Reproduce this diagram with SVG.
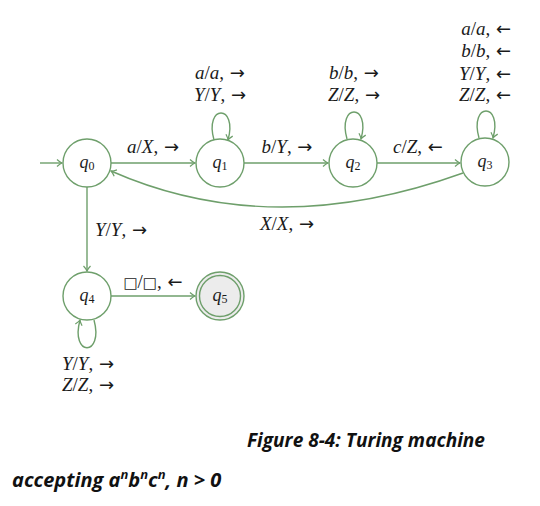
<svg xmlns="http://www.w3.org/2000/svg" width="540" height="506" viewBox="0 0 540 506">
<defs>
<style>
.st{fill:#fff;stroke:#6e9f6b;stroke-width:1.4}
.acc{fill:#ececec;stroke:#6e9f6b;stroke-width:1.4}
.e{fill:none;stroke:#6e9f6b;stroke-width:1.4}
.m{font-family:"Liberation Serif","DejaVu Serif",serif;font-size:19px;fill:#1a1a1a}
.m tspan.i{font-style:italic}
.m tspan.a{font-family:"DejaVu Sans",sans-serif;font-size:18px}
.m tspan.b{font-family:"DejaVu Sans",sans-serif;font-size:15px}
.q{font-family:"Liberation Serif","DejaVu Serif",serif;font-size:18px;fill:#1a1a1a;font-style:italic;text-anchor:middle}
.q tspan{font-style:normal;font-size:12px}
.cap{font-family:"Open Sans","Noto Sans",sans-serif;font-size:20px;font-weight:bold;font-style:italic;fill:#111}
</style>
<marker id="ar" markerWidth="10" markerHeight="10" refX="8" refY="5" orient="auto" markerUnits="userSpaceOnUse">
<path d="M3 1.5 Q6 4.3 8 5 Q6 5.7 3 8.5" fill="none" stroke="#6e9f6b" stroke-width="1.2"/>
</marker>
</defs>
<rect width="540" height="506" fill="#fff"/>
<g id="connectors">
<path class="e" d="M40 163 H62" marker-end="url(#ar)"/>
<path class="e" d="M111 163 H195" marker-end="url(#ar)"/>
<path class="e" d="M244 163 H328" marker-end="url(#ar)"/>
<path class="e" d="M377 163 H460" marker-end="url(#ar)"/>
<path class="e" d="M463 173 Q272 242 111 171" marker-end="url(#ar)"/>
<path class="e" d="M87 187 V271" marker-end="url(#ar)"/>
<path class="e" d="M111 296 H195" marker-end="url(#ar)"/>
<path class="e" d="M214 140 C204 104 238 104 228 140" marker-end="url(#ar)"/>
<path class="e" d="M347 139 C337 103 371 103 361 139" marker-end="url(#ar)"/>
<path class="e" d="M479 138 C469 102 503 102 493 138" marker-end="url(#ar)"/>
<path class="e" d="M94 320 C104 357 70 357 80 320" marker-end="url(#ar)"/>
<text class="m" x="153" y="153" text-anchor="middle"><tspan class="i">a</tspan>/<tspan class="i">X</tspan>,<tspan class="a"> →</tspan></text>
<text class="m" x="287" y="153" text-anchor="middle"><tspan class="i">b</tspan>/<tspan class="i">Y</tspan>,<tspan class="a"> →</tspan></text>
<text class="m" x="418" y="153" text-anchor="middle"><tspan class="i">c</tspan>/<tspan class="i">Z</tspan>,<tspan class="a"> ←</tspan></text>
<text class="m" x="287" y="230" text-anchor="middle"><tspan class="i">X</tspan>/<tspan class="i">X</tspan>,<tspan class="a"> →</tspan></text>
<text class="m" x="95" y="236"><tspan class="i">Y</tspan>/<tspan class="i">Y</tspan>,<tspan class="a"> →</tspan></text>
<text class="m" x="153" y="288" text-anchor="middle"><tspan class="b">□</tspan>/<tspan class="b">□</tspan>,<tspan class="a"> ←</tspan></text>
<text class="m" x="220" y="79" text-anchor="middle"><tspan class="i">a</tspan>/<tspan class="i">a</tspan>,<tspan class="a"> →</tspan></text>
<text class="m" x="220" y="101" text-anchor="middle"><tspan class="i">Y</tspan>/<tspan class="i">Y</tspan>,<tspan class="a"> →</tspan></text>
<text class="m" x="354" y="79" text-anchor="middle"><tspan class="i">b</tspan>/<tspan class="i">b</tspan>,<tspan class="a"> →</tspan></text>
<text class="m" x="354" y="101" text-anchor="middle"><tspan class="i">Z</tspan>/<tspan class="i">Z</tspan>,<tspan class="a"> →</tspan></text>
<text class="m" x="511" y="35" text-anchor="end"><tspan class="i">a</tspan>/<tspan class="i">a</tspan>,<tspan class="a"> ←</tspan></text>
<text class="m" x="511" y="57" text-anchor="end"><tspan class="i">b</tspan>/<tspan class="i">b</tspan>,<tspan class="a"> ←</tspan></text>
<text class="m" x="511" y="80" text-anchor="end"><tspan class="i">Y</tspan>/<tspan class="i">Y</tspan>,<tspan class="a"> ←</tspan></text>
<text class="m" x="511" y="101" text-anchor="end"><tspan class="i">Z</tspan>/<tspan class="i">Z</tspan>,<tspan class="a"> ←</tspan></text>
<text class="m" x="88" y="370" text-anchor="middle"><tspan class="i">Y</tspan>/<tspan class="i">Y</tspan>,<tspan class="a"> →</tspan></text>
<text class="m" x="88" y="391" text-anchor="middle"><tspan class="i">Z</tspan>/<tspan class="i">Z</tspan>,<tspan class="a"> →</tspan></text>
</g>
<g id="q0"><circle class="st" cx="87" cy="163" r="24"/><text class="q" x="87" y="168">q<tspan dy="2">0</tspan></text></g>
<g id="q1"><circle class="st" cx="220" cy="163" r="24"/><text class="q" x="220" y="168">q<tspan dy="2">1</tspan></text></g>
<g id="q2"><circle class="st" cx="353" cy="163" r="24"/><text class="q" x="353" y="168">q<tspan dy="2">2</tspan></text></g>
<g id="q3"><circle class="st" cx="485" cy="162" r="24"/><text class="q" x="485" y="167">q<tspan dy="2">3</tspan></text></g>
<g id="q4"><circle class="st" cx="87" cy="296" r="24"/><text class="q" x="87" y="301">q<tspan dy="2">4</tspan></text></g>
<g id="q5"><circle class="acc" cx="220" cy="296" r="24"/><circle class="e" cx="220" cy="296" r="20.5"/><text class="q" x="220" y="301">q<tspan dy="2">5</tspan></text></g>
<g id="caption">
<text class="cap" x="247" y="447" textLength="238" lengthAdjust="spacingAndGlyphs">Figure 8-4: Turing machine</text>
<text class="cap" x="12" y="487">accepting a<tspan font-size="13" dy="-8">n</tspan><tspan dy="8">b</tspan><tspan font-size="13" dy="-8">n</tspan><tspan dy="8">c</tspan><tspan font-size="13" dy="-8">n</tspan><tspan dy="8">, n &gt; 0</tspan></text>
</g>
</svg>
